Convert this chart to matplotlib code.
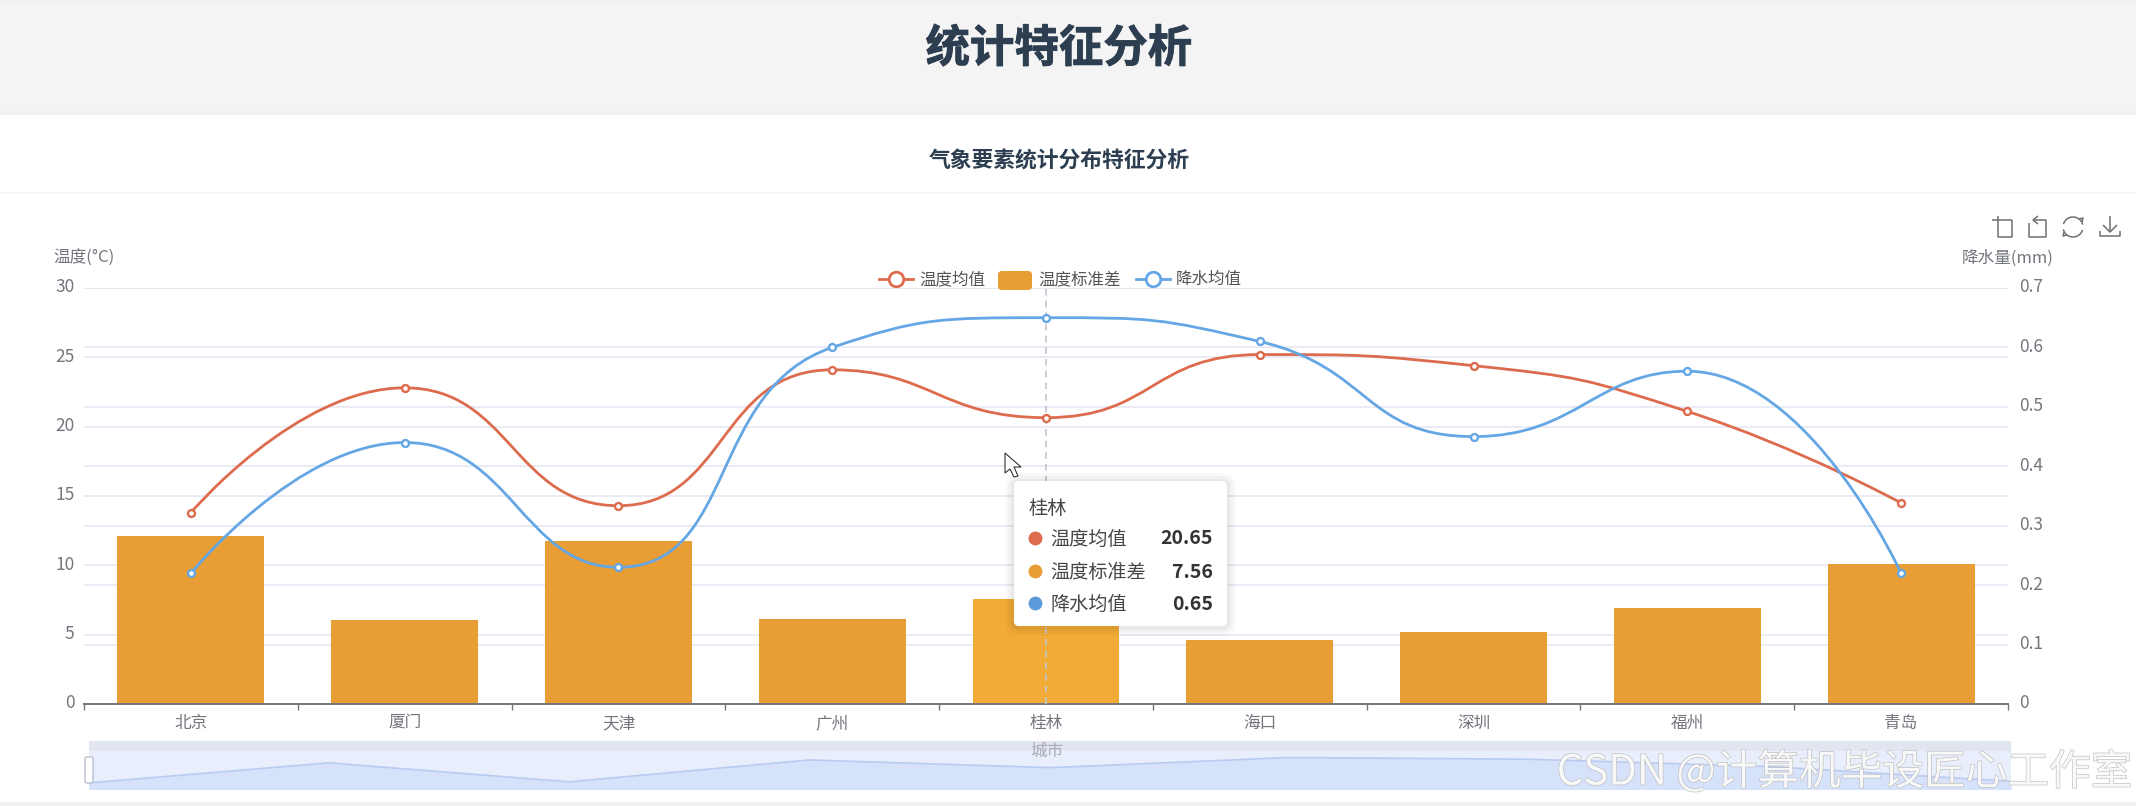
import numpy as np
import matplotlib
matplotlib.use('Agg')
import matplotlib.pyplot as plt
import matplotlib.patheffects as pe
from matplotlib.path import Path
from matplotlib.patches import FancyBboxPatch, PathPatch, Rectangle, Polygon
from matplotlib.transforms import ScaledTranslation

plt.rcParams['font.family'] = ['Noto Sans CJK SC', 'DejaVu Sans']

cities = ['北京', '厦门', '天津', '广州', '桂林', '海口', '深圳', '福州', '青岛']
temp_mean = [13.8, 22.8, 14.3, 24.1, 20.65, 25.2, 24.4, 21.1, 14.5]
temp_std = [12.1, 6.05, 11.75, 6.1, 7.56, 4.6, 5.2, 6.9, 10.1]
rain_mean = [0.22, 0.44, 0.23, 0.60, 0.65, 0.61, 0.45, 0.56, 0.22]
left_ticks = [0, 5, 10, 15, 20, 25, 30]
right_ticks = [0, 0.1, 0.2, 0.3, 0.4, 0.5, 0.6, 0.7]

RED = '#dd6b4d'
ORANGE = '#e89e34'
HILITE = '#f3ab37'
BLUE = '#65a6e4'
GREY = '#74767e'
GRID = '#e6e8f2'
DARK = '#2c3e50'

W, H = 2136, 806


def rect(l, t, r, b):
    # pixel box (top-left origin) to figure fractions
    return [l / W, 1 - b / H, (r - l) / W, (b - t) / H]


def smooth_path(ax, ys, smooth=0.5):
    # same bezier construction as echarts smooth lines, done in pixels
    pts = ax.transData.transform(np.column_stack([np.arange(len(ys)), ys]))
    verts = [pts[0]]
    codes = [Path.MOVETO]
    cp0 = pts[0].copy()
    for i in range(1, len(pts)):
        p = pts[i]
        prev = pts[i - 1]
        if i == len(pts) - 1:
            cp1 = p.copy()
            next_cp0 = p.copy()
        else:
            nxt = pts[i + 1]
            len_prev = np.hypot(*(p - prev))
            len_next = np.hypot(*(nxt - p))
            ratio = len_next / (len_next + len_prev)
            next_cp0 = p + (nxt - prev) * smooth * ratio
            next_cp0 = np.clip(next_cp0, np.minimum(nxt, p), np.maximum(nxt, p))
            cp1 = p - (next_cp0 - p) * len_prev / len_next
            cp1 = np.clip(cp1, np.minimum(prev, p), np.maximum(prev, p))
            next_cp0 = p + (p - cp1) * len_next / len_prev
        verts += [cp0, cp1, p]
        codes += [Path.CURVE4] * 3
        cp0 = next_cp0
    return Path(ax.transData.inverted().transform(np.array(verts)), codes)


fig = plt.figure(figsize=(W / 100, H / 100), dpi=100, facecolor='white')

# page furniture behind the chart
bg = fig.add_axes([0, 0, 1, 1], zorder=0)
bg.set_xlim(0, W)
bg.set_ylim(H, 0)
bg.axis('off')
bg.add_patch(Rectangle((0, 0), W, 115, color='#f4f4f5', lw=0))
bg.add_patch(Rectangle((0, 0), W, 4, color='#f0f1f3', lw=0))
bg.add_patch(Rectangle((0, 111), W, 4, color='#f0f0f1', lw=0))
bg.add_patch(Rectangle((0, 802), W, 4, color='#f1f2f3', lw=0))
bg.plot([0, W], [191.5, 191.5], color='#f3f4f5', lw=1)
bg.text(1059, 49, '统计特征分析', fontsize=32, fontweight='bold', color=DARK,
        ha='center', va='center',
        path_effects=[pe.withStroke(linewidth=0.6, foreground=DARK)])
bg.text(1059, 161, '气象要素统计分布特征分析', fontsize=15.7, fontweight='bold', color=DARK,
        ha='center', va='center')

# main chart
ax = fig.add_axes(rect(84, 288, 2008, 704), zorder=1)
ax.patch.set_alpha(0)
ax.set_xlim(-0.5, 8.5)
ax.set_ylim(0, 30)
ax2 = ax.twinx()
ax2.set_ylim(0, 0.7)

for t in left_ticks[1:]:
    ax.axhline(t, color=GRID, lw=1.2, zorder=0)
for t in right_ticks[1:]:
    ax.axhline(t * 30 / 0.7, color=GRID, lw=1.2, zorder=0)

bar_colors = [ORANGE] * len(cities)
bar_colors[cities.index('桂林')] = HILITE
x = np.arange(len(cities))
ax.bar(x, temp_std, width=0.6875, color=bar_colors, zorder=2)

ax.axvline(4, color='#c4c6cc', lw=1.2, ls=(0, (4, 3)), zorder=3)

ax.add_patch(PathPatch(smooth_path(ax, temp_mean), fill=False, edgecolor=RED, lw=2, zorder=4))
ax.plot(x, temp_mean, ls='', marker='o', ms=5, mfc='white', mec=RED, mew=1.7, zorder=5)
ax2.add_patch(PathPatch(smooth_path(ax2, rain_mean), fill=False, edgecolor=BLUE, lw=2, zorder=4))
ax2.plot(x, rain_mean, ls='', marker='o', ms=5, mfc='white', mec=BLUE, mew=1.7, zorder=5)

for a in (ax, ax2):
    for s in a.spines.values():
        s.set_visible(False)
ax.spines['bottom'].set_visible(True)
ax.spines['bottom'].set_color(GREY)
ax.spines['bottom'].set_linewidth(1.4)

ax.set_yticks(left_ticks)
ax.tick_params(axis='y', length=0, pad=7, labelsize=12.5, labelcolor=GREY)
ax2.set_yticks(right_ticks, [f'{t:g}' for t in right_ticks])
ax2.tick_params(axis='y', length=0, pad=8, labelsize=12.5, labelcolor=GREY)
ax.set_xticks(np.arange(-0.5, 9, 1), [''] * 10)
ax.set_xticks(x, cities, minor=True)
ax.tick_params(axis='x', which='major', length=4.5, width=1, color=GREY)
ax.tick_params(axis='x', which='minor', length=0, pad=8, labelsize=12, labelcolor=GREY)

# tick labels sit a little above their gridlines in the original
lift = ScaledTranslation(0, 2.5 / 72 * 72 / 100, fig.dpi_scale_trans)
for lab in ax.get_yticklabels() + ax2.get_yticklabels():
    lab.set_transform(lab.get_transform() + lift)

# data zoom strip, same temperature series
dz = fig.add_axes(rect(88.5, 751, 2011, 789), zorder=1)
dz.set_facecolor('#e8eefc')
dz.set_xlim(0, len(cities) - 1)
dz.set_ylim(11.1, 28.1)
dz.fill_between(x, temp_mean, 0, color='#d6e2fa', lw=0)
dz.plot(x, temp_mean, color='#b9cbf0', lw=1.2)
dz.set_xticks([])
dz.set_yticks([])
for s in dz.spines.values():
    s.set_visible(False)

# overlay in pixel coordinates: legend, tooltip, toolbox, cursor, watermark
ov = fig.add_axes([0, 0, 1, 1], zorder=3)
ov.set_xlim(0, W)
ov.set_ylim(H, 0)
ov.axis('off')

ov.add_patch(Rectangle((88.5, 741), 1922.5, 10, color='#e0e5ef', lw=0))
ov.add_patch(FancyBboxPatch((85, 757), 8, 26, boxstyle='round,pad=0,rounding_size=2',
                            fc='white', ec='#b8c0d0', lw=1))
ov.text(1047, 751, '城市', fontsize=12, color='#a9acb5', ha='center', va='center')

ov.text(53, 258, '温度(°C)', fontsize=12, color=GREY, ha='left', va='center')
ov.text(2054, 258, '降水量(mm)', fontsize=12, color=GREY, ha='right', va='center')

# legend
for x0, col in ((879, RED), (1136, BLUE)):
    ov.plot([x0, x0 + 34], [279, 279], color=col, lw=2)
    ov.plot([x0 + 17], [279], marker='o', ms=10.5, mfc='white', mec=col, mew=2)
ov.add_patch(FancyBboxPatch((998, 271), 34, 19, boxstyle='round,pad=0,rounding_size=4',
                            fc=ORANGE, ec='none'))
for tx, label in ((919, '温度均值'), (1038, '温度标准差'), (1176, '降水均值')):
    ov.text(tx, 279.5, label, fontsize=11.9, color='#555555', ha='left', va='center')

# tooltip
for grow, alpha in ((9, 0.02), (6, 0.03), (3, 0.04)):
    ov.add_patch(FancyBboxPatch((1014 - grow, 482 - grow), 213 + 2 * grow, 145 + 2 * grow,
                                boxstyle=f'round,pad=0,rounding_size={5 + grow}',
                                fc='black', ec='none', alpha=alpha))
ov.add_patch(FancyBboxPatch((1014, 481), 213, 145, boxstyle='round,pad=0,rounding_size=5',
                            fc='white', ec='none'))
ov.text(1029, 508.5, '桂林', fontsize=13.8, color='#464646', ha='left', va='center')
tip_rows = [('温度均值', RED, temp_mean[4]), ('温度标准差', ORANGE, temp_std[4]),
            ('降水均值', '#5a9ad9', rain_mean[4])]
for (label, col, val), ty in zip(tip_rows, (538, 571, 603)):
    ov.plot([1035], [ty], marker='o', ms=10, color=col, mew=0)
    ov.text(1050, ty + 1, label, fontsize=13.8, color='#464646', ha='left', va='center')
    ov.text(1213, ty + 1, f'{val:.2f}', fontsize=14, fontweight='bold', color='#333333',
            ha='right', va='center')

# toolbox icons
ic = dict(color='#707070', lw=1.1, solid_capstyle='butt')
ov.plot([1998, 1998, 2012, 2012], [220, 237, 237, 220], **ic)
ov.plot([1992, 2012], [220, 220], **ic)
ov.plot([1998, 1998], [216, 220], **ic)
ov.plot([2029, 2029, 2046, 2046, 2034], [223, 237, 237, 220, 220], **ic)
ov.plot([2038, 2033, 2038], [216, 220, 224], **ic)
t = np.linspace(0.3, 2.9, 30)
ov.plot(2073 + 10 * np.cos(t), 227 + 10 * np.sin(t), **ic)
ov.plot(2073 + 10 * np.cos(t + np.pi), 227 + 10 * np.sin(t + np.pi), **ic)
ov.plot([2082, 2083, 2079], [222, 218, 219], **ic)
ov.plot([2064, 2063, 2067], [232, 236, 235], **ic)
ov.plot([2110, 2110], [216, 232], **ic)
ov.plot([2103, 2110, 2117], [225, 232, 225], **ic)
ov.plot([2100, 2100, 2120, 2120], [231, 236, 236, 231], **ic)

# mouse cursor
ov.add_patch(Polygon([(1005, 453), (1005, 473), (1010, 469), (1014, 477), (1018, 476),
                      (1014, 467), (1021, 467)], closed=True, fc='white', ec='#333333', lw=0.8))

# watermark
ov.text(2132, 772, 'CSDN @计算机毕设匠心工作室', fontsize=30, color='#f8f8f8', ha='right', va='center',
        fontweight='light', path_effects=[pe.withStroke(linewidth=0.9, foreground='#bdbdbd')])

fig.savefig('out.png', dpi=100)
